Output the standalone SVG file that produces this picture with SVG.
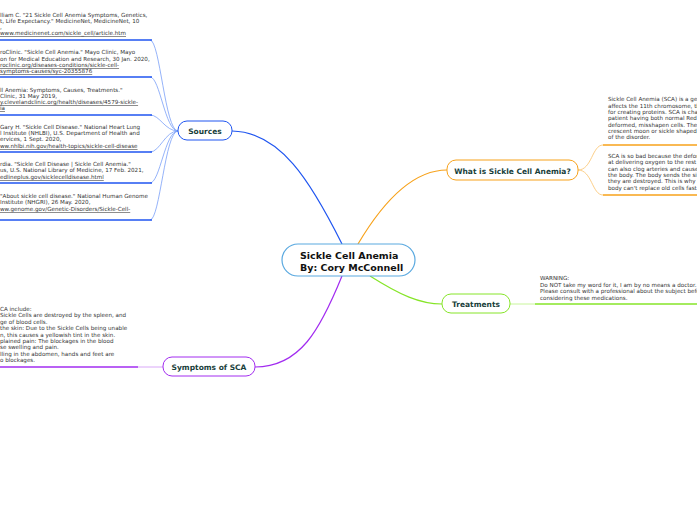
<svg xmlns="http://www.w3.org/2000/svg" width="697" height="520" viewBox="0 0 697 520">
<style>
.t{font-family:"DejaVu Sans",sans-serif;font-size:5.6px;fill:#333}
.u{text-decoration:underline}
.n{font-family:"DejaVu Sans",sans-serif;font-weight:bold;font-size:7.5px;fill:#18403a;text-anchor:middle}
.c{font-family:"DejaVu Sans",sans-serif;font-weight:bold;font-size:9.5px;fill:#111}
.bl{stroke:#1f55f0;fill:none}
.or{stroke:#f7a21b;fill:none}
.gr{stroke:#86e528;fill:none}
.pu{stroke:#a22cf0;fill:none}
</style>
<rect width="697" height="520" fill="#fff"/>
<g id="connectors">
<path class="bl" stroke-width="1.2" d="M342,244 C310,180 280,132 232,131"/>
<path class="or" stroke-width="1.2" d="M358,244 C390,190 420,170 447,170"/>
<path class="gr" stroke-width="1.2" d="M370,276 C400,295 420,304 442,304"/>
<path class="pu" stroke-width="1.2" d="M342,276 C320,330 300,367 255,367"/>
<g stroke="#7aa0f8" stroke-width="0.8" fill="none">
<path d="M178,131 C165,131 160,40 150,40"/><path d="M178,131 C165,131 160,77 150,77"/>
<path d="M178,131 C165,131 160,115 150,115"/><path d="M178,131 C165,131 160,152 150,152"/>
<path d="M178,131 C165,131 160,183 150,183"/><path d="M178,131 C165,131 160,220 150,220"/>
</g>
<g class="bl" stroke-width="1.3">
<path d="M0,40H152"/><path d="M0,77H152"/><path d="M0,115H152"/><path d="M0,152H152"/><path d="M0,183H152"/><path d="M0,220H152"/>
</g>
<g stroke="#fbc87a" stroke-width="0.9" fill="none">
<path d="M578,170 C592,170 592,145 603,145"/><path d="M578,170 C592,170 592,195 603,195"/>
</g>
<path class="or" stroke-width="1.3" d="M603,145H697M603,195H697"/>
<path stroke="#c8f59a" stroke-width="1" d="M510,304H535"/>
<path class="gr" stroke-width="1.5" d="M535,304H697"/>
<path stroke="#d9a8f8" stroke-width="1" d="M138,367H163"/>
<path class="pu" stroke-width="1.5" d="M0,367H138"/>
</g>
<g id="center">
<rect x="282" y="244" width="133" height="32" rx="16" fill="#fff" stroke="#5aa9e0" stroke-width="1.2"/>
<text class="c" x="300" y="259">Sickle Cell Anemia</text>
<text class="c" x="300" y="270.5">By: Cory McConnell</text>
</g>
<g id="sources">
<rect x="178" y="121" width="54" height="19" rx="9" fill="#fff" stroke="#1f55f0" stroke-width="1"/>
<text class="n" x="205" y="134">Sources</text>
</g>
<g id="what">
<rect x="447" y="160" width="131" height="20" rx="9" fill="#fff" stroke="#f7a21b" stroke-width="1"/>
<text class="n" x="512.5" y="173.5">What is Sickle Cell Anemia?</text>
</g>
<g id="treatments">
<rect x="442" y="294" width="68" height="19" rx="9" fill="#fff" stroke="#86e528" stroke-width="1"/>
<text class="n" x="476" y="307">Treatments</text>
</g>
<g id="symptoms">
<rect x="163" y="357" width="92" height="19" rx="9" fill="#fff" stroke="#a22cf0" stroke-width="1"/>
<text class="n" x="209" y="370">Symptoms of SCA</text>
</g>
<g id="source-leaves" class="t">
<text x="0" y="17">lliam C. "21 Sickle Cell Anemia Symptoms, Genetics,</text>
<text x="0" y="23">t, Life Expectancy." MedicineNet, MedicineNet, 10</text>
<text x="0" y="29">,</text>
<text x="0" y="35" class="t u">www.medicinenet.com/sickle_cell/article.htm</text>
<text x="0" y="54">roClinic. "Sickle Cell Anemia." Mayo Clinic, Mayo</text>
<text x="0" y="61">on for Medical Education and Research, 30 Jan. 2020,</text>
<text x="0" y="67" class="t u">roclinic.org/diseases-conditions/sickle-cell-</text>
<text x="0" y="73" class="t u">symptoms-causes/syc-20355876</text>
<text x="0" y="92">ll Anemia: Symptoms, Causes, Treatments."</text>
<text x="0" y="98">Clinic, 31 May 2019,</text>
<text x="0" y="104" class="t u">y.clevelandclinic.org/health/diseases/4579-sickle-</text>
<text x="0" y="110" class="t u">ia</text>
<text x="0" y="129">Gary H. "Sickle Cell Disease." National Heart Lung</text>
<text x="0" y="135">l Institute (NHLBI), U.S. Department of Health and</text>
<text x="0" y="141">ervices, 1 Sept. 2020,</text>
<text x="0" y="148" class="t u">ww.nhlbi.nih.gov/health-topics/sickle-cell-disease</text>
<text x="0" y="166">rdia. "Sickle Cell Disease | Sickle Cell Anemia."</text>
<text x="0" y="172">us, U.S. National Library of Medicine, 17 Feb. 2021,</text>
<text x="0" y="179" class="t u">edlineplus.gov/sicklecelldisease.html</text>
<text x="0" y="198">"About sickle cell disease." National Human Genome</text>
<text x="0" y="204">Institute (NHGRI), 26 May. 2020,</text>
<text x="0" y="211" class="t u">ww.genome.gov/Genetic-Disorders/Sickle-Cell-</text>
</g>
<g id="what-leaves" class="t">
<text x="608" y="101">Sickle Cell Anemia (SCA) is a ge</text>
<text x="608" y="108">affects the 11th chromosome, th</text>
<text x="608" y="114">for creating proteins. SCA is cha</text>
<text x="608" y="120">patient having both normal Red</text>
<text x="608" y="127">deformed, misshapen cells. The</text>
<text x="608" y="133">crescent moon or sickle shaped,</text>
<text x="608" y="139">of the disorder.</text>
<text x="608" y="158">SCA is so bad because the defor</text>
<text x="608" y="164">at delivering oxygen to the rest</text>
<text x="608" y="171">can also clog arteries and cause</text>
<text x="608" y="177">the body. The body sends the si</text>
<text x="608" y="183">they are destroyed. This is why</text>
<text x="608" y="190">body can't replace old cells fast</text>
</g>
<g id="treatment-leaf" class="t">
<text x="540" y="280">WARNING:</text>
<text x="540" y="287">Do NOT take my word for it, I am by no means a doctor.</text>
<text x="540" y="293">Please consult with a professional about the subject before</text>
<text x="540" y="300">considering these medications.</text>
</g>
<g id="symptom-leaf" class="t">
<text x="0" y="311">CA include:</text>
<text x="0" y="317">Sickle Cells are destroyed by the spleen, and</text>
<text x="0" y="324">ge of blood cells.</text>
<text x="0" y="330">the skin: Due to the Sickle Cells being unable</text>
<text x="0" y="337">n, this causes a yellowish tint in the skin.</text>
<text x="0" y="343">plained pain: The blockages in the blood</text>
<text x="0" y="349">se swelling and pain.</text>
<text x="0" y="356">lling in the abdomen, hands and feet are</text>
<text x="0" y="362">o blockages.</text>
</g>
</svg>
